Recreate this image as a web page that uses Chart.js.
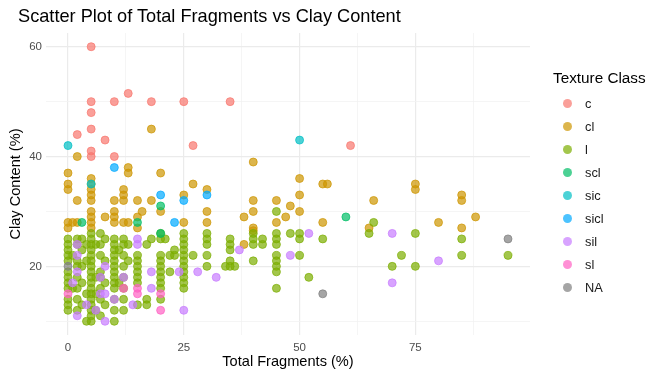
<!DOCTYPE html>
<html>
<head>
<meta charset="utf-8">
<script src="https://cdn.jsdelivr.net/npm/chart.js@4.4.1/dist/chart.umd.min.js"></script>
<style>
  html, body { margin: 0; padding: 0; background: #ffffff; }
  #wrap { position: relative; width: 660px; height: 379px; font-family: "Liberation Sans", Arial, sans-serif; }
  #chart { position: absolute; left: 0; top: 0; }
  #title { position: absolute; left: 18px; top: 5px; font-size: 18.2px; line-height: 22px; color: #000; white-space: nowrap; }
  #legend { position: absolute; left: 553px; top: 68px; }
  #legend .lt { font-size: 15.3px; line-height: 20px; height: 20px; color: #000; white-space: nowrap; margin-bottom: 4px; }
  #legend .row { position: relative; height: 23px; }
  #legend .dot { position: absolute; left: 9.5px; top: 7px; width: 9px; height: 9px; border-radius: 50%; }
  #legend .lab { position: absolute; left: 32px; top: 3px; font-size: 12.8px; line-height: 17px; color: #1a1a1a; }
</style>
</head>
<body>
<div id="wrap">
  <canvas id="chart" width="660" height="379"></canvas>
  <div id="title"></div>
  <div id="legend"></div>
</div>
<script>
// ---- DATA ----
const TITLE = "Scatter Plot of Total Fragments vs Clay Content";
const X_TITLE = "Total Fragments (%)";
const Y_TITLE = "Clay Content (%)";
const LEGEND_TITLE = "Texture Class";
const CLASSES = ["c", "cl", "l", "scl", "sic", "sicl", "sil", "sl", "NA"];
const X_TICKS = [0, 12.5, 25, 37.5, 50, 62.5, 75, 87.5];
const X_LABELED = [0, 25, 50, 75];
const Y_TICKS = [10, 20, 30, 40, 50, 60];
const Y_LABELED = [20, 40, 60];

// [total fragments %, clay %]
const c_pts = [[5,60],[5,50],[10,50],[13,51.5],[18,50],[25,50],[35,50],[5,48],[5,45],[2,44],[8,43],[27,42],[61,42],[5,41],[5,40],[10,40]];
const cl_pts = [[18,45],[2,40],[0,37],[13,38],[13,37],[20,37],[0,35],[0,34],[5,36],[5,35],[5,34],[5,33],[5,32],[2,32],[12,34],[12,33],[10,32],[12,32],[15,32],[18,32],[20,30],[5,30],[5,29],[5,28],[5,27],[0,28],[0,27],[1,28],[2,28],[8,29],[10,30],[10,29],[10,28],[12,28],[13,28],[15,27],[16,30],[15,29],[40,39],[27,35],[30,34],[30,30],[30,28],[25,33],[25,28],[38,29],[40,32],[40,30],[40,27],[40,26.5],[38,24],[45,32],[45,28],[47,29],[48,31],[50,36],[50,33],[50,30],[55,35],[56,35],[55,28],[75,35],[75,34],[66,32],[85,33],[85,32],[88,29],[80,28],[85,27],[65,27]];
const l_pts = [
  [0,25],[0,24],[0,23],[0,22],[0,21],[0,19],[0,18],[0,17],[0,16],[0,14],[0,13],[0,12],
  [1,22],[1,16],
  [2,25],[2,24],[2,21],[2,20],[2,18],[2,16],[2,14],[2,12],
  [3,25],[3,23],[3,20],[3,17],[3,13],
  [4,24],[4,21],[4,15],[4,10],
  [5,26],[5,25],[5,24],[5,23],[5,22],[5,21],[5,20],[5,19],[5,18],[5,17],[5,16],[5,15],[5,14],[5,13],[5,12],[5,11],[5,10],
  [6,24],[6,18],[6,15],[6,12],
  [7,26],[7,24],[7,22],[7,19],[7,18],[7,16],[7,14],[7,11],
  [8,25],[8,21],[8,17],[8,13],
  [10,25],[10,24],[10,23],[10,22],[10,21],[10,20],[10,19],[10,18],[10,17],[10,16],[10,14],[10,12],[10,10],
  [11,23],[11,17],
  [12,25],[12,24],[12,22],[12,20],[12,18],[12,16],[12,14],[12,12],
  [13,24],[13,21],
  [15,22],[15,21],[15,20],[15,19],[15,18],[15,17],[15,13],
  [17,24],[17,14],[17,13],
  [18,25],
  [20,26],[20,25],[20,22],[20,21],[20,20],[20,19],[20,18],[20,17],[20,16],[20,14],
  [21,25],[22,22],[22,19],[23,23],[23,22],
  [25,26],[25,25],[25,24],[25,23],[25,22],[25,21],[25,20],[25,19],[25,18],[25,17],[25,16],
  [27,22],
  [30,26],[30,25],[30,24],[30,22],[30,20],
  [34,20],[35,25],[35,24],[35,23],[35,21],[35,20],[36,20],
  [40,26],[40,25],[40,24],[40,21],
  [42,25],[42,24],
  [45,30],[45,26],[45,25],[45,24],[45,22],[45,21],[45,20],[45,19],[45,16],
  [48,26],[50,26],[50,25],[50,22],[52,18],[55,25],
  [65,26],[66,28],[70,20],[72,22],[75,26],[75,20],[85,25],[85,22],[95,22]
];
const scl_pts = [[20,31],[15,28],[3,28],[20,26],[60,29]];
const sic_pts = [[0,42],[50,43],[5,35]];
const sicl_pts = [[10,38],[20,33],[25,32],[30,33],[23,28]];
const sil_pts = [[2,24],[8,20],[7,15],[4,13],[2,11],[8,10],[6,12],[15,25],[15,24],[18,19],[2,22],[2,19],[7,18],[1,17],[12,18],[18,16],[14,13],[8,15],[10,14],[52,26],[48,22],[37,23],[28,19],[32,18],[24,19],[25,12],[70,26],[80,21],[70,17]];
const sl_pts = [[0,15],[12,16],[15,16],[15,15],[20,15],[20,12]];
const na_pts = [[55,15],[95,25],[0,20]];

// ---- STYLE ----
const CLASS_COLORS = ["#F8766D", "#CD9600", "#7CAE00", "#00BE67", "#00BFC4", "#00A9FF", "#C77CFF", "#FF61C3", "#7F7F7F"];
const ALPHA = 0.7;
function rgba(hex, a) {
  const n = parseInt(hex.slice(1), 16);
  return `rgba(${(n >> 16) & 255},${(n >> 8) & 255},${n & 255},${a})`;
}

const SERIES = [c_pts, cl_pts, l_pts, scl_pts, sic_pts, sicl_pts, sil_pts, sl_pts, na_pts];

const datasets = CLASSES.map((name, i) => ({
  label: name,
  data: SERIES[i].map(p => ({ x: p[0], y: p[1] })),
  backgroundColor: rgba(CLASS_COLORS[i], ALPHA),
  borderColor: rgba(CLASS_COLORS[i], ALPHA),
  borderWidth: 1,
  pointRadius: 4,
  pointHoverRadius: 4,
  order: CLASSES.length - i
}));

const FONT = "'Liberation Sans', Arial, sans-serif";

new Chart(document.getElementById("chart"), {
  type: "scatter",
  data: { datasets },
  options: {
    responsive: false,
    devicePixelRatio: 1,
    animation: false,
    layout: { padding: { left: 0, right: 130, top: 33, bottom: 0 } },
    plugins: { legend: { display: false }, title: { display: false }, tooltip: { enabled: false } },
    scales: {
      x: {
        type: "linear",
        min: -4.75,
        max: 99.75,
        afterBuildTicks: s => { s.ticks = X_TICKS.map(v => ({ value: v })); },
        afterFit: s => { s.height = 44; },
        border: { display: false },
        grid: {
          drawTicks: false,
          color: ctx => X_LABELED.includes(ctx.tick.value) ? "#EBEBEB" : "#F3F3F3",
          lineWidth: ctx => X_LABELED.includes(ctx.tick.value) ? 1.2 : 0.8
        },
        ticks: {
          padding: 6,
          color: "#4D4D4D",
          font: { family: FONT, size: 11.5 },
          maxRotation: 0,
          autoSkip: false,
          callback: v => X_LABELED.includes(v) ? String(v) : ""
        },
        title: {
          display: true,
          text: X_TITLE,
          color: "#000",
          font: { family: FONT, size: 14.6 },
          padding: { top: 0, bottom: 8 }
        }
      },
      y: {
        type: "linear",
        min: 7.5,
        max: 62.5,
        afterBuildTicks: s => { s.ticks = Y_TICKS.map(v => ({ value: v })); },
        afterFit: s => { s.width = 46; },
        border: { display: false },
        grid: {
          drawTicks: false,
          color: ctx => Y_LABELED.includes(ctx.tick.value) ? "#EBEBEB" : "#F3F3F3",
          lineWidth: ctx => Y_LABELED.includes(ctx.tick.value) ? 1.2 : 0.8
        },
        ticks: {
          padding: 4,
          color: "#4D4D4D",
          font: { family: FONT, size: 11.5 },
          autoSkip: false,
          callback: v => Y_LABELED.includes(v) ? String(v) : ""
        },
        title: {
          display: true,
          text: Y_TITLE,
          color: "#000",
          font: { family: FONT, size: 14.6 },
          padding: { top: 7, bottom: 0 }
        }
      }
    }
  }
});

// HTML title and legend (real text)
document.getElementById("title").textContent = TITLE;
const lg = document.getElementById("legend");
const lt = document.createElement("div");
lt.className = "lt";
lt.textContent = LEGEND_TITLE;
lg.appendChild(lt);
CLASSES.forEach((name, i) => {
  const row = document.createElement("div");
  row.className = "row";
  const dot = document.createElement("div");
  dot.className = "dot";
  dot.style.background = rgba(CLASS_COLORS[i], ALPHA);
  const lab = document.createElement("div");
  lab.className = "lab";
  lab.textContent = name;
  row.appendChild(dot);
  row.appendChild(lab);
  lg.appendChild(row);
});
</script>
</body>
</html>
